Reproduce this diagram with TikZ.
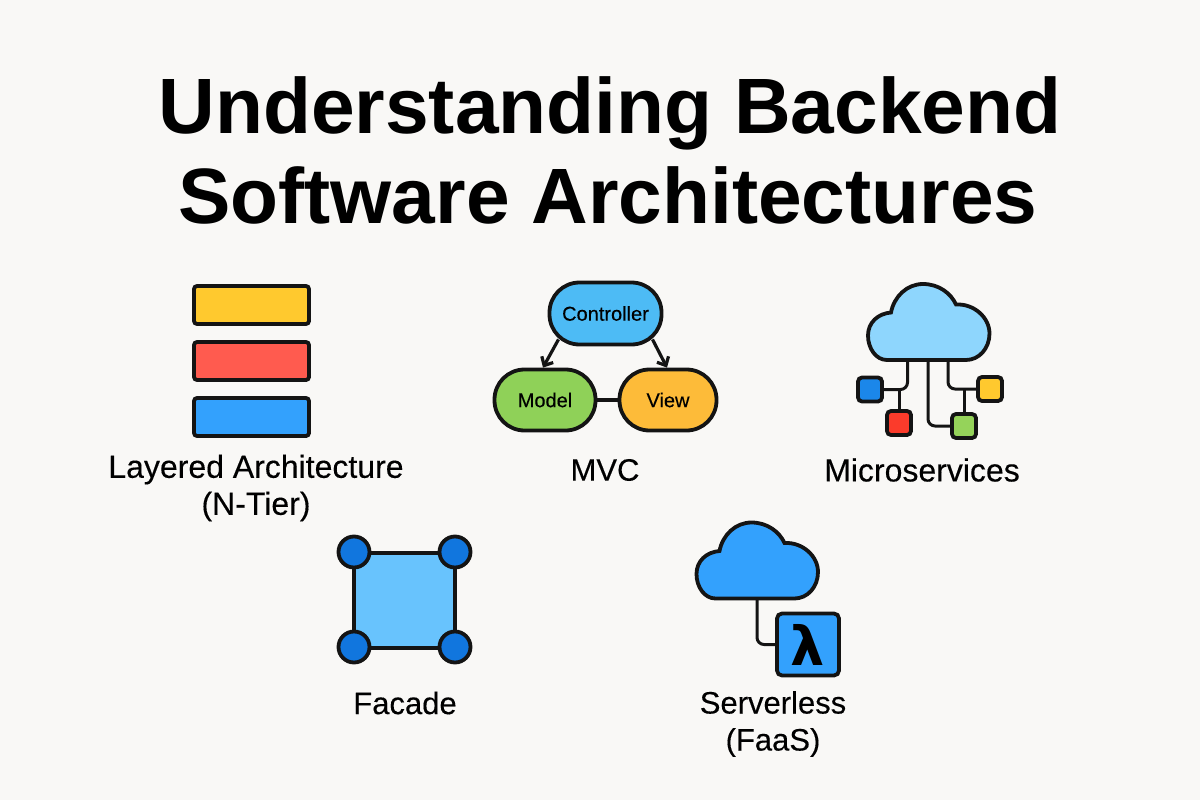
\documentclass[tikz,border=0pt]{standalone}
\usepackage{fontspec}
\setmainfont{Liberation Sans}
\newfontfamily\captionfont[FakeBold=0.25]{Liberation Sans}
\newfontfamily\lambdafont{DejaVu Sans}
\usetikzlibrary{arrows.meta, positioning}
\definecolor{paper}{HTML}{F9F8F6}
\definecolor{layeryellow}{HTML}{FFC92E}
\definecolor{layerred}{HTML}{FF5B4F}
\definecolor{layerblue}{HTML}{33A1FD}
\definecolor{ctrlblue}{HTML}{4DBBF5}
\definecolor{modelgreen}{HTML}{8FD158}
\definecolor{viewamber}{HTML}{FDBB39}
\definecolor{cloudpale}{HTML}{8ED6FD}
\definecolor{msblue}{HTML}{1B87EA}
\definecolor{msred}{HTML}{FB3B2B}
\definecolor{msgreen}{HTML}{95D35A}
\definecolor{facadefill}{HTML}{68C3FD}
\definecolor{facadedot}{HTML}{1176DE}
\tikzset{
  outline/.style={draw=black!92, line width=3.8pt},
  layerbox/.style={outline, rectangle, rounded corners=3pt, minimum width=115pt, minimum height=38pt, inner sep=0pt},
  pill/.style={outline, rectangle, rounded corners=30pt, inner sep=0pt, font=\captionfont\fontsize{20}{22}\selectfont},
  msbox/.style={outline, rectangle, rounded corners=4pt, minimum size=24pt, inner sep=0pt},
  dot/.style={outline, circle, fill=facadedot, minimum size=31pt, inner sep=0pt},
  wire/.style={draw=black!92, line width=3pt, rounded corners=7pt},
  barbed/.style={outline, line width=3.2pt, -{Straight Barb[length=7pt, width=13pt]}},
  caption/.style={font=\captionfont\fontsize{31}{37}\selectfont, align=center},
  heading/.style={font=\fontsize{78.5}{90}\bfseries\selectfont, anchor=base, inner sep=0pt},
  cloudfill/.initial=cloudpale,
  cloudicon/.pic={
    \draw[outline, fill=\pgfkeysvalueof{/tikz/cloudfill}]
      (-42,38.5) .. controls (-53,38.5) and (-61,27) .. (-61,14)
      .. controls (-61,1) and (-51,-8) .. (-38,-9)
      .. controls (-35,-25) and (-22,-37.5) .. (-6,-37.5)
      .. controls (10,-37.5) and (22,-28) .. (27,-17)
      .. controls (45,-18) and (60.5,-4) .. (60.5,12)
      .. controls (60.5,27) and (50,38.5) .. (37,38.5) -- cycle;
  }
}
\begin{document}
\begin{tikzpicture}[x=1pt, y=-1pt]
        \useasboundingbox [fill=paper] (0,0) rectangle (1200,800);
        % title
        \node (titleA) [heading] at (610,133) {Understanding Backend};
        \node (titleB) [heading] at (608,223) {Software Architectures};
        % layered
        \node (layerA) [layerbox, fill=layeryellow] at (251.5,305) {};
        \node (layerB) [layerbox, fill=layerred] at (251.5,361) {};
        \node (layerC) [layerbox, fill=layerblue] at (251.5,417) {};
        \node (layerlabel) [caption, font=\captionfont\fontsize{32}{37}\selectfont] at (256,488) {Layered Architecture\\(N-Tier)};
        % mvc
        \node (controller) [pill, fill=ctrlblue, minimum width=112pt, minimum height=62pt] at (605.5,313.5) {Controller};
        \node (model) [pill, fill=modelgreen, minimum width=101pt, minimum height=61pt] at (545,400) {Model};
        \node (view) [pill, fill=viewamber, minimum width=97pt, minimum height=61pt] at (668,400) {View};
        \draw [barbed] ([xshift=-47pt, yshift=7pt]controller.south) -- ([xshift=-2pt]model.north);
        \draw [barbed] ([xshift=47pt, yshift=7pt]controller.south) -- ([xshift=-1pt]view.north);
        \draw [outline] (model) -- (view);
        \node (mvclabel) [caption] at (605,470) {MVC};
        % microservices
        \coordinate (tapA) at (907.5,358);
        \coordinate (tapB) at (928,358);
        \coordinate (tapC) at (948,358);
        \node (msA) [msbox, fill=msblue] at (870,389.5) {};
        \node (msB) [msbox, fill=msred] at (899,423) {};
        \node (msC) [msbox, fill=msgreen] at (964,426) {};
        \node (msD) [msbox, fill=layeryellow] at (990,389) {};
        \draw [wire] (tapA) |- (msA);
        \draw [wire] (tapB) |- (msC);
        \draw [wire] (tapC) |- (msD);
        \coordinate (joinA) at (msB |- msA);
        \coordinate (joinB) at (msC |- msD);
        \draw [wire] (joinA) -- (msB);
        \draw [wire] (joinB) -- (msC);
        \pic at (929,321.5) {cloudicon};
        \node (mslabel) [caption, font=\captionfont\fontsize{32}{37}\selectfont] at (922,470) {Microservices};
        % facade
        \node (facade) [outline, rectangle, fill=facadefill, minimum width=101pt, minimum height=95pt, inner sep=0pt] at (404.5,600.5) {};
        \node (dotA) [dot] at (354,552) {};
        \node (dotB) [dot] at (455,552) {};
        \node (dotC) [dot] at (354,647) {};
        \node (dotD) [dot] at (455,647) {};
        \node (facadelabel) [caption] at (405,703) {Facade};
        % serverless
        \coordinate (tapD) at (757,598);
        \node (lambdabox) [outline, rectangle, rounded corners=5pt, fill=layerblue, minimum size=62pt, inner sep=0pt, font=\lambdafont\fontsize{54}{54}\bfseries\selectfont] at (808,644.5) {λ};
        \draw [wire] (tapD) |- (lambdabox);
        \pic [cloudfill=layerblue] at (757.5,560) {cloudicon};
        \node (serverlesslabel) [caption] at (773,724) {Serverless\\(FaaS)};
    \end{tikzpicture}
\end{document}
